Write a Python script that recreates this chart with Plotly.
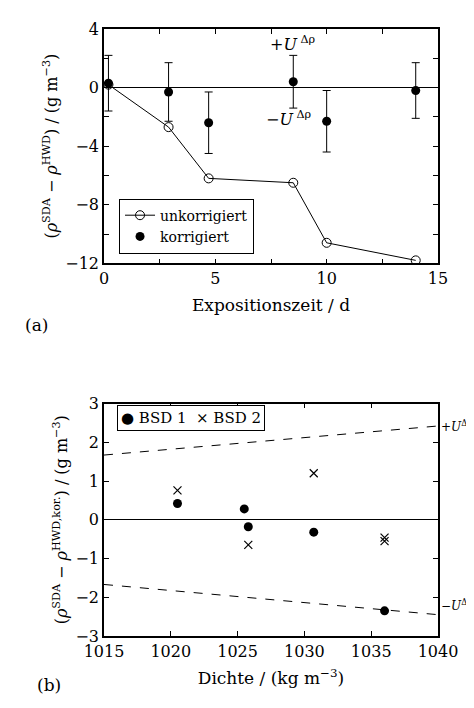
import plotly.graph_objects as go

# Panel (a)
t_unk = [0.2, 2.9, 4.7, 8.5, 10.0, 14.0]
d_unk = [0.2, -2.7, -6.2, -6.5, -10.6, -11.8]
t_kor = [0.2, 2.9, 4.7, 8.5, 10.0, 14.0]
d_kor = [0.3, -0.3, -2.4, 0.4, -2.3, -0.2]
err_kor = [1.9, 2.0, 2.1, 1.8, 2.1, 1.9]

# Panel (b)
rho_bsd1 = [1020.5, 1025.5, 1025.8, 1030.7, 1036.0]
d_bsd1 = [0.42, 0.28, -0.18, -0.32, -2.35]
rho_bsd2 = [1020.5, 1025.8, 1030.7, 1036.0, 1036.0]
d_bsd2 = [0.76, -0.65, 1.2, -0.46, -0.55]
u_x = [1015, 1040]
u_plus = [1.67, 2.42]
u_minus = [-1.67, -2.45]

F = "DejaVu Serif"
fig = go.Figure()
fig.add_trace(go.Scatter(x=t_unk, y=d_unk, mode="lines+markers", name="unkorrigiert",
    line=dict(color="black", width=1), marker=dict(symbol="circle-open", size=9, color="black",
    line=dict(width=1)), xaxis="x", yaxis="y"))
fig.add_trace(go.Scatter(x=t_kor, y=d_kor, mode="markers", name="korrigiert",
    marker=dict(size=9, color="black"),
    error_y=dict(type="data", array=err_kor, color="black", thickness=1, width=4),
    xaxis="x", yaxis="y"))
fig.add_trace(go.Scatter(x=rho_bsd1, y=d_bsd1, mode="markers", name="BSD 1",
    marker=dict(size=9, color="black"), xaxis="x2", yaxis="y2", showlegend=False))
fig.add_trace(go.Scatter(x=rho_bsd2, y=d_bsd2, mode="markers", name="BSD 2",
    marker=dict(symbol="x-thin-open", size=8, color="black", line=dict(width=1.2, color="black")),
    xaxis="x2", yaxis="y2", showlegend=False))
for yy in (u_plus, u_minus):
    fig.add_trace(go.Scatter(x=u_x, y=yy, mode="lines", line=dict(color="black", width=1, dash="dash"),
        xaxis="x2", yaxis="y2", showlegend=False))

ax = dict(showline=True, linecolor="black", linewidth=1.5, mirror="ticks", ticks="inside",
          tickcolor="black", ticklen=5, showgrid=False, zeroline=True, zerolinecolor="black",
          zerolinewidth=1, tickfont=dict(family=F, size=16, color="black"))
fig.update_layout(
    width=474, height=708, plot_bgcolor="white", paper_bgcolor="white",
    margin=dict(l=96, r=44, t=14, b=80),
    font=dict(family=F, size=16, color="black"),
    xaxis=dict(ax, range=[0, 15], tickvals=[0, 2.5, 5, 7.5, 10, 12.5, 15],
               ticktext=["0", "", "5", "", "10", "", "15"], anchor="y",
               title=dict(text="Expositionszeit / d", font=dict(size=17), standoff=12), zeroline=False),
    yaxis=dict(ax, range=[-12, 4], domain=[0.614, 1.0], anchor="x",
               tickvals=[-12, -10, -8, -6, -4, -2, 0, 2, 4],
               ticktext=["−12", "", "−8", "", "−4", "", "0", "", "4"],
               title=dict(text="(<i>ρ</i><sup>SDA</sup> − <i>ρ</i><sup>HWD</sup>) / (g m<sup>−3</sup>)",
                          font=dict(size=16), standoff=4)),
    xaxis2=dict(ax, range=[1015, 1040], dtick=5, anchor="y2", zeroline=False,
                title=dict(text="Dichte / (kg m<sup>−3</sup>)", font=dict(size=17), standoff=12)),
    yaxis2=dict(ax, range=[-3, 3], dtick=1, domain=[0, 0.383], anchor="x2",
                tickvals=[-3, -2, -1, 0, 1, 2, 3], ticktext=["−3", "−2", "−1", "0", "1", "2", "3"],
                title=dict(text="(<i>ρ</i><sup>SDA</sup> − <i>ρ</i><sup>HWD,kor.</sup>) / (g m<sup>−3</sup>)",
                           font=dict(size=16), standoff=4)),
    legend=dict(x=0.045, y=0.63, xanchor="left", yanchor="bottom", bordercolor="black", borderwidth=1,
                bgcolor="white", font=dict(size=14), tracegroupgap=0),
    showlegend=True,
)

def px(xp, yp):
    return (xp - 96) / 334, (628 - yp) / 614

ax_, ay_ = px(15, 313)
bx_, by_ = px(27, 690)
ann = [
    dict(x=8.5, y=3.0, xref="x", yref="y", text="+<i>U</i><sup> Δρ</sup>", showarrow=False, font=dict(size=16)),
    dict(x=8.3, y=-2.1, xref="x", yref="y", text="−<i>U</i><sup> Δρ</sup>", showarrow=False, font=dict(size=16)),
    dict(x=1.002, y=(2.42 + 3) / 6 * 0.383, xref="paper", yref="paper", text="+<i>U</i><sup>Δρ</sup>",
         showarrow=False, xanchor="left", font=dict(size=12)),
    dict(x=1.002, y=(-2.45 + 3) / 6 * 0.383, xref="paper", yref="paper", text="−<i>U</i><sup>Δρ</sup>",
         showarrow=False, xanchor="left", font=dict(size=12)),
    dict(x=1016.0, y=2.62, xref="x2", yref="y2", text="●&nbsp;BSD 1&nbsp;&nbsp;×&nbsp;BSD 2", showarrow=False,
         xanchor="left", bordercolor="black", borderwidth=1, borderpad=3, bgcolor="white", font=dict(size=15)),
    dict(x=ax_, y=ay_, xref="paper", yref="paper", text="(a)", showarrow=False, font=dict(size=17)),
    dict(x=bx_, y=by_, xref="paper", yref="paper", text="(b)", showarrow=False, font=dict(size=17)),
]
fig.update_layout(annotations=ann)
fig.write_html("out.html")
